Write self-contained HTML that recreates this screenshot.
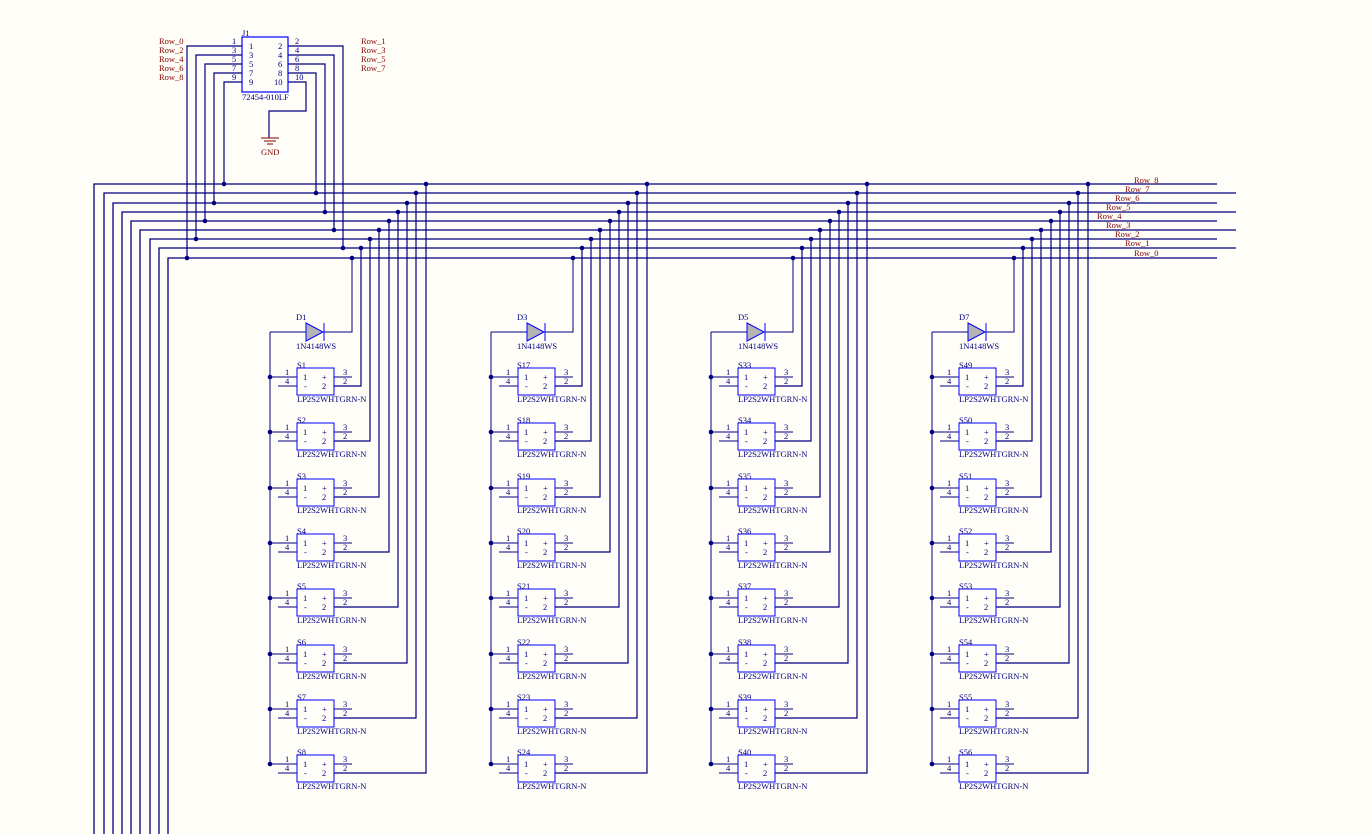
<!DOCTYPE html>
<html><head><meta charset="utf-8"><style>
html,body{margin:0;padding:0;background:#fffdf7;}
svg{display:block;}
text{font-family:"Liberation Serif",serif;font-size:8.5px;}
.n{fill:#000080;}
.r{fill:#800000;}
</style></head><body>
<svg width="1372" height="834" viewBox="0 0 1372 834" xmlns="http://www.w3.org/2000/svg">
<rect width="1372" height="834" fill="#fffdf7"/>
<defs>
<g id="sw">
<path d="M0 0H27M8 9H27M64 0H82" stroke="#000080" stroke-width="1" fill="none"/>
<circle cx="0" cy="0" r="2.3" fill="#000080"/>
<rect x="27" y="-9" width="37" height="27" fill="none" stroke="#0000ff" stroke-width="1"/>
<text class="n" x="15" y="-2">1</text><text class="n" x="15" y="7">4</text>
<text class="n" x="33" y="3">1</text><text class="n" x="52" y="3">+</text>
<text class="n" x="34" y="12">-</text><text class="n" x="52" y="12">2</text>
<text class="n" x="73" y="-2">3</text><text class="n" x="73" y="7">2</text>
</g>
<g id="di">
<path d="M0 0H36M54 0H82V-74" stroke="#000080" fill="none"/>
<polygon points="36,-9 53,0 36,9" fill="#b4b4b4" stroke="#0000ff"/>
<path d="M54 -9V9" stroke="#0000ff"/>
<circle cx="82" cy="-74" r="2.3" fill="#000080"/>
<path d="M0 0V432" stroke="#000080" fill="none"/>
</g>
</defs>

<g stroke="#000080" stroke-width="1.3" fill="none">
<path d="M94 834V184H1217"/>
<path d="M104 834V193H1236"/>
<path d="M113 834V203H1217"/>
<path d="M122 834V212H1236"/>
<path d="M131 834V221H1217"/>
<path d="M140 834V230H1236"/>
<path d="M150 834V239H1217"/>
<path d="M159 834V248H1236"/>
<path d="M168 834V258H1217"/>
</g>
<g class="r">
<text x="1134" y="183">Row_8</text><text x="1125" y="192">Row_7</text><text x="1115" y="201">Row_6</text>
<text x="1106" y="210">Row_5</text><text x="1097" y="219">Row_4</text><text x="1106" y="228">Row_3</text>
<text x="1115" y="237">Row_2</text><text x="1125" y="246">Row_1</text><text x="1134" y="256">Row_0</text>
</g>

<g stroke="#000080" stroke-width="1.2" fill="none">
<path d="M242 46H187V258M242 55H196V239M242 64H205V221M242 73H214V203M242 82H224V184"/>
<path d="M288 46H343V248M288 55H334V230M288 64H325V212M288 73H316V193M288 82H306V111H269V138"/>
</g>
<rect x="242" y="37" width="46" height="55" fill="none" stroke="#0000ff" stroke-width="1.2"/>
<g fill="#000080">
<circle cx="187" cy="258" r="2.3"/><circle cx="196" cy="239" r="2.3"/><circle cx="205" cy="221" r="2.3"/><circle cx="214" cy="203" r="2.3"/><circle cx="224" cy="184" r="2.3"/>
<circle cx="343" cy="248" r="2.3"/><circle cx="334" cy="230" r="2.3"/><circle cx="325" cy="212" r="2.3"/><circle cx="316" cy="193" r="2.3"/>
</g>
<g class="n">
<text x="242" y="36">J1</text><text x="242" y="100">72454-010LF</text>
<text x="232" y="44">1</text><text x="232" y="53">3</text><text x="232" y="62">5</text><text x="232" y="71">7</text><text x="232" y="80">9</text>
<text x="249" y="49">1</text><text x="249" y="58">3</text><text x="249" y="67">5</text><text x="249" y="76">7</text><text x="249" y="85">9</text>
<text x="278" y="49">2</text><text x="278" y="58">4</text><text x="278" y="67">6</text><text x="278" y="76">8</text><text x="274" y="85">10</text>
<text x="295" y="44">2</text><text x="295" y="53">4</text><text x="295" y="62">6</text><text x="295" y="71">8</text><text x="295" y="80">10</text>
</g>
<g class="r">
<text x="159" y="44">Row_0</text><text x="159" y="53">Row_2</text><text x="159" y="62">Row_4</text><text x="159" y="71">Row_6</text><text x="159" y="80">Row_8</text>
<text x="361" y="44">Row_1</text><text x="361" y="53">Row_3</text><text x="361" y="62">Row_5</text><text x="361" y="71">Row_7</text>
<text x="261" y="155">GND</text>
</g>
<path d="M261 138H279M264 141H276M267 144H273" stroke="#800000" stroke-width="1"/>

<use href="#di" x="270" y="332"/><use href="#di" x="491" y="332"/><use href="#di" x="711" y="332"/><use href="#di" x="932" y="332"/>
<g class="n">
<text x="296" y="320">D1</text><text x="296" y="349">1N4148WS</text>
<text x="517" y="320">D3</text><text x="517" y="349">1N4148WS</text>
<text x="738" y="320">D5</text><text x="738" y="349">1N4148WS</text>
<text x="959" y="320">D7</text><text x="959" y="349">1N4148WS</text>
</g>

<g stroke="#000080" stroke-width="1.2" fill="none">
<path d="M334 386H361V248M334 441H370V239M334 497H379V230M334 552H389V221M334 607H398V212M334 663H407V203M334 718H416V193M334 773H426V184"/>
<path d="M555 386H582V248M555 441H591V239M555 497H600V230M555 552H610V221M555 607H619V212M555 663H628V203M555 718H637V193M555 773H647V184"/>
<path d="M775 386H802V248M775 441H811V239M775 497H820V230M775 552H830V221M775 607H839V212M775 663H848V203M775 718H857V193M775 773H867V184"/>
<path d="M996 386H1023V248M996 441H1032V239M996 497H1041V230M996 552H1051V221M996 607H1060V212M996 663H1069V203M996 718H1078V193M996 773H1088V184"/>
</g>
<g fill="#000080">
<circle cx="361" cy="248" r="2.3"/><circle cx="370" cy="239" r="2.3"/><circle cx="379" cy="230" r="2.3"/><circle cx="389" cy="221" r="2.3"/><circle cx="398" cy="212" r="2.3"/><circle cx="407" cy="203" r="2.3"/><circle cx="416" cy="193" r="2.3"/><circle cx="426" cy="184" r="2.3"/>
<circle cx="582" cy="248" r="2.3"/><circle cx="591" cy="239" r="2.3"/><circle cx="600" cy="230" r="2.3"/><circle cx="610" cy="221" r="2.3"/><circle cx="619" cy="212" r="2.3"/><circle cx="628" cy="203" r="2.3"/><circle cx="637" cy="193" r="2.3"/><circle cx="647" cy="184" r="2.3"/>
<circle cx="802" cy="248" r="2.3"/><circle cx="811" cy="239" r="2.3"/><circle cx="820" cy="230" r="2.3"/><circle cx="830" cy="221" r="2.3"/><circle cx="839" cy="212" r="2.3"/><circle cx="848" cy="203" r="2.3"/><circle cx="857" cy="193" r="2.3"/><circle cx="867" cy="184" r="2.3"/>
<circle cx="1023" cy="248" r="2.3"/><circle cx="1032" cy="239" r="2.3"/><circle cx="1041" cy="230" r="2.3"/><circle cx="1051" cy="221" r="2.3"/><circle cx="1060" cy="212" r="2.3"/><circle cx="1069" cy="203" r="2.3"/><circle cx="1078" cy="193" r="2.3"/><circle cx="1088" cy="184" r="2.3"/>
</g>

<use href="#sw" x="270" y="377"/><use href="#sw" x="270" y="432"/><use href="#sw" x="270" y="488"/><use href="#sw" x="270" y="543"/><use href="#sw" x="270" y="598"/><use href="#sw" x="270" y="654"/><use href="#sw" x="270" y="709"/><use href="#sw" x="270" y="764"/>
<use href="#sw" x="491" y="377"/><use href="#sw" x="491" y="432"/><use href="#sw" x="491" y="488"/><use href="#sw" x="491" y="543"/><use href="#sw" x="491" y="598"/><use href="#sw" x="491" y="654"/><use href="#sw" x="491" y="709"/><use href="#sw" x="491" y="764"/>
<use href="#sw" x="711" y="377"/><use href="#sw" x="711" y="432"/><use href="#sw" x="711" y="488"/><use href="#sw" x="711" y="543"/><use href="#sw" x="711" y="598"/><use href="#sw" x="711" y="654"/><use href="#sw" x="711" y="709"/><use href="#sw" x="711" y="764"/>
<use href="#sw" x="932" y="377"/><use href="#sw" x="932" y="432"/><use href="#sw" x="932" y="488"/><use href="#sw" x="932" y="543"/><use href="#sw" x="932" y="598"/><use href="#sw" x="932" y="654"/><use href="#sw" x="932" y="709"/><use href="#sw" x="932" y="764"/>

<g class="n">
<text x="297" y="368">S1</text><text x="297" y="402">LP2S2WHTGRN-N</text>
<text x="297" y="423">S2</text><text x="297" y="457">LP2S2WHTGRN-N</text>
<text x="297" y="479">S3</text><text x="297" y="513">LP2S2WHTGRN-N</text>
<text x="297" y="534">S4</text><text x="297" y="568">LP2S2WHTGRN-N</text>
<text x="297" y="589">S5</text><text x="297" y="623">LP2S2WHTGRN-N</text>
<text x="297" y="645">S6</text><text x="297" y="679">LP2S2WHTGRN-N</text>
<text x="297" y="700">S7</text><text x="297" y="734">LP2S2WHTGRN-N</text>
<text x="297" y="755">S8</text><text x="297" y="789">LP2S2WHTGRN-N</text>

<text x="517" y="368">S17</text><text x="517" y="402">LP2S2WHTGRN-N</text>
<text x="517" y="423">S18</text><text x="517" y="457">LP2S2WHTGRN-N</text>
<text x="517" y="479">S19</text><text x="517" y="513">LP2S2WHTGRN-N</text>
<text x="517" y="534">S20</text><text x="517" y="568">LP2S2WHTGRN-N</text>
<text x="517" y="589">S21</text><text x="517" y="623">LP2S2WHTGRN-N</text>
<text x="517" y="645">S22</text><text x="517" y="679">LP2S2WHTGRN-N</text>
<text x="517" y="700">S23</text><text x="517" y="734">LP2S2WHTGRN-N</text>
<text x="517" y="755">S24</text><text x="517" y="789">LP2S2WHTGRN-N</text>

<text x="738" y="368">S33</text><text x="738" y="402">LP2S2WHTGRN-N</text>
<text x="738" y="423">S34</text><text x="738" y="457">LP2S2WHTGRN-N</text>
<text x="738" y="479">S35</text><text x="738" y="513">LP2S2WHTGRN-N</text>
<text x="738" y="534">S36</text><text x="738" y="568">LP2S2WHTGRN-N</text>
<text x="738" y="589">S37</text><text x="738" y="623">LP2S2WHTGRN-N</text>
<text x="738" y="645">S38</text><text x="738" y="679">LP2S2WHTGRN-N</text>
<text x="738" y="700">S39</text><text x="738" y="734">LP2S2WHTGRN-N</text>
<text x="738" y="755">S40</text><text x="738" y="789">LP2S2WHTGRN-N</text>

<text x="959" y="368">S49</text><text x="959" y="402">LP2S2WHTGRN-N</text>
<text x="959" y="423">S50</text><text x="959" y="457">LP2S2WHTGRN-N</text>
<text x="959" y="479">S51</text><text x="959" y="513">LP2S2WHTGRN-N</text>
<text x="959" y="534">S52</text><text x="959" y="568">LP2S2WHTGRN-N</text>
<text x="959" y="589">S53</text><text x="959" y="623">LP2S2WHTGRN-N</text>
<text x="959" y="645">S54</text><text x="959" y="679">LP2S2WHTGRN-N</text>
<text x="959" y="700">S55</text><text x="959" y="734">LP2S2WHTGRN-N</text>
<text x="959" y="755">S56</text><text x="959" y="789">LP2S2WHTGRN-N</text>
</g>
</svg>
</body></html>
